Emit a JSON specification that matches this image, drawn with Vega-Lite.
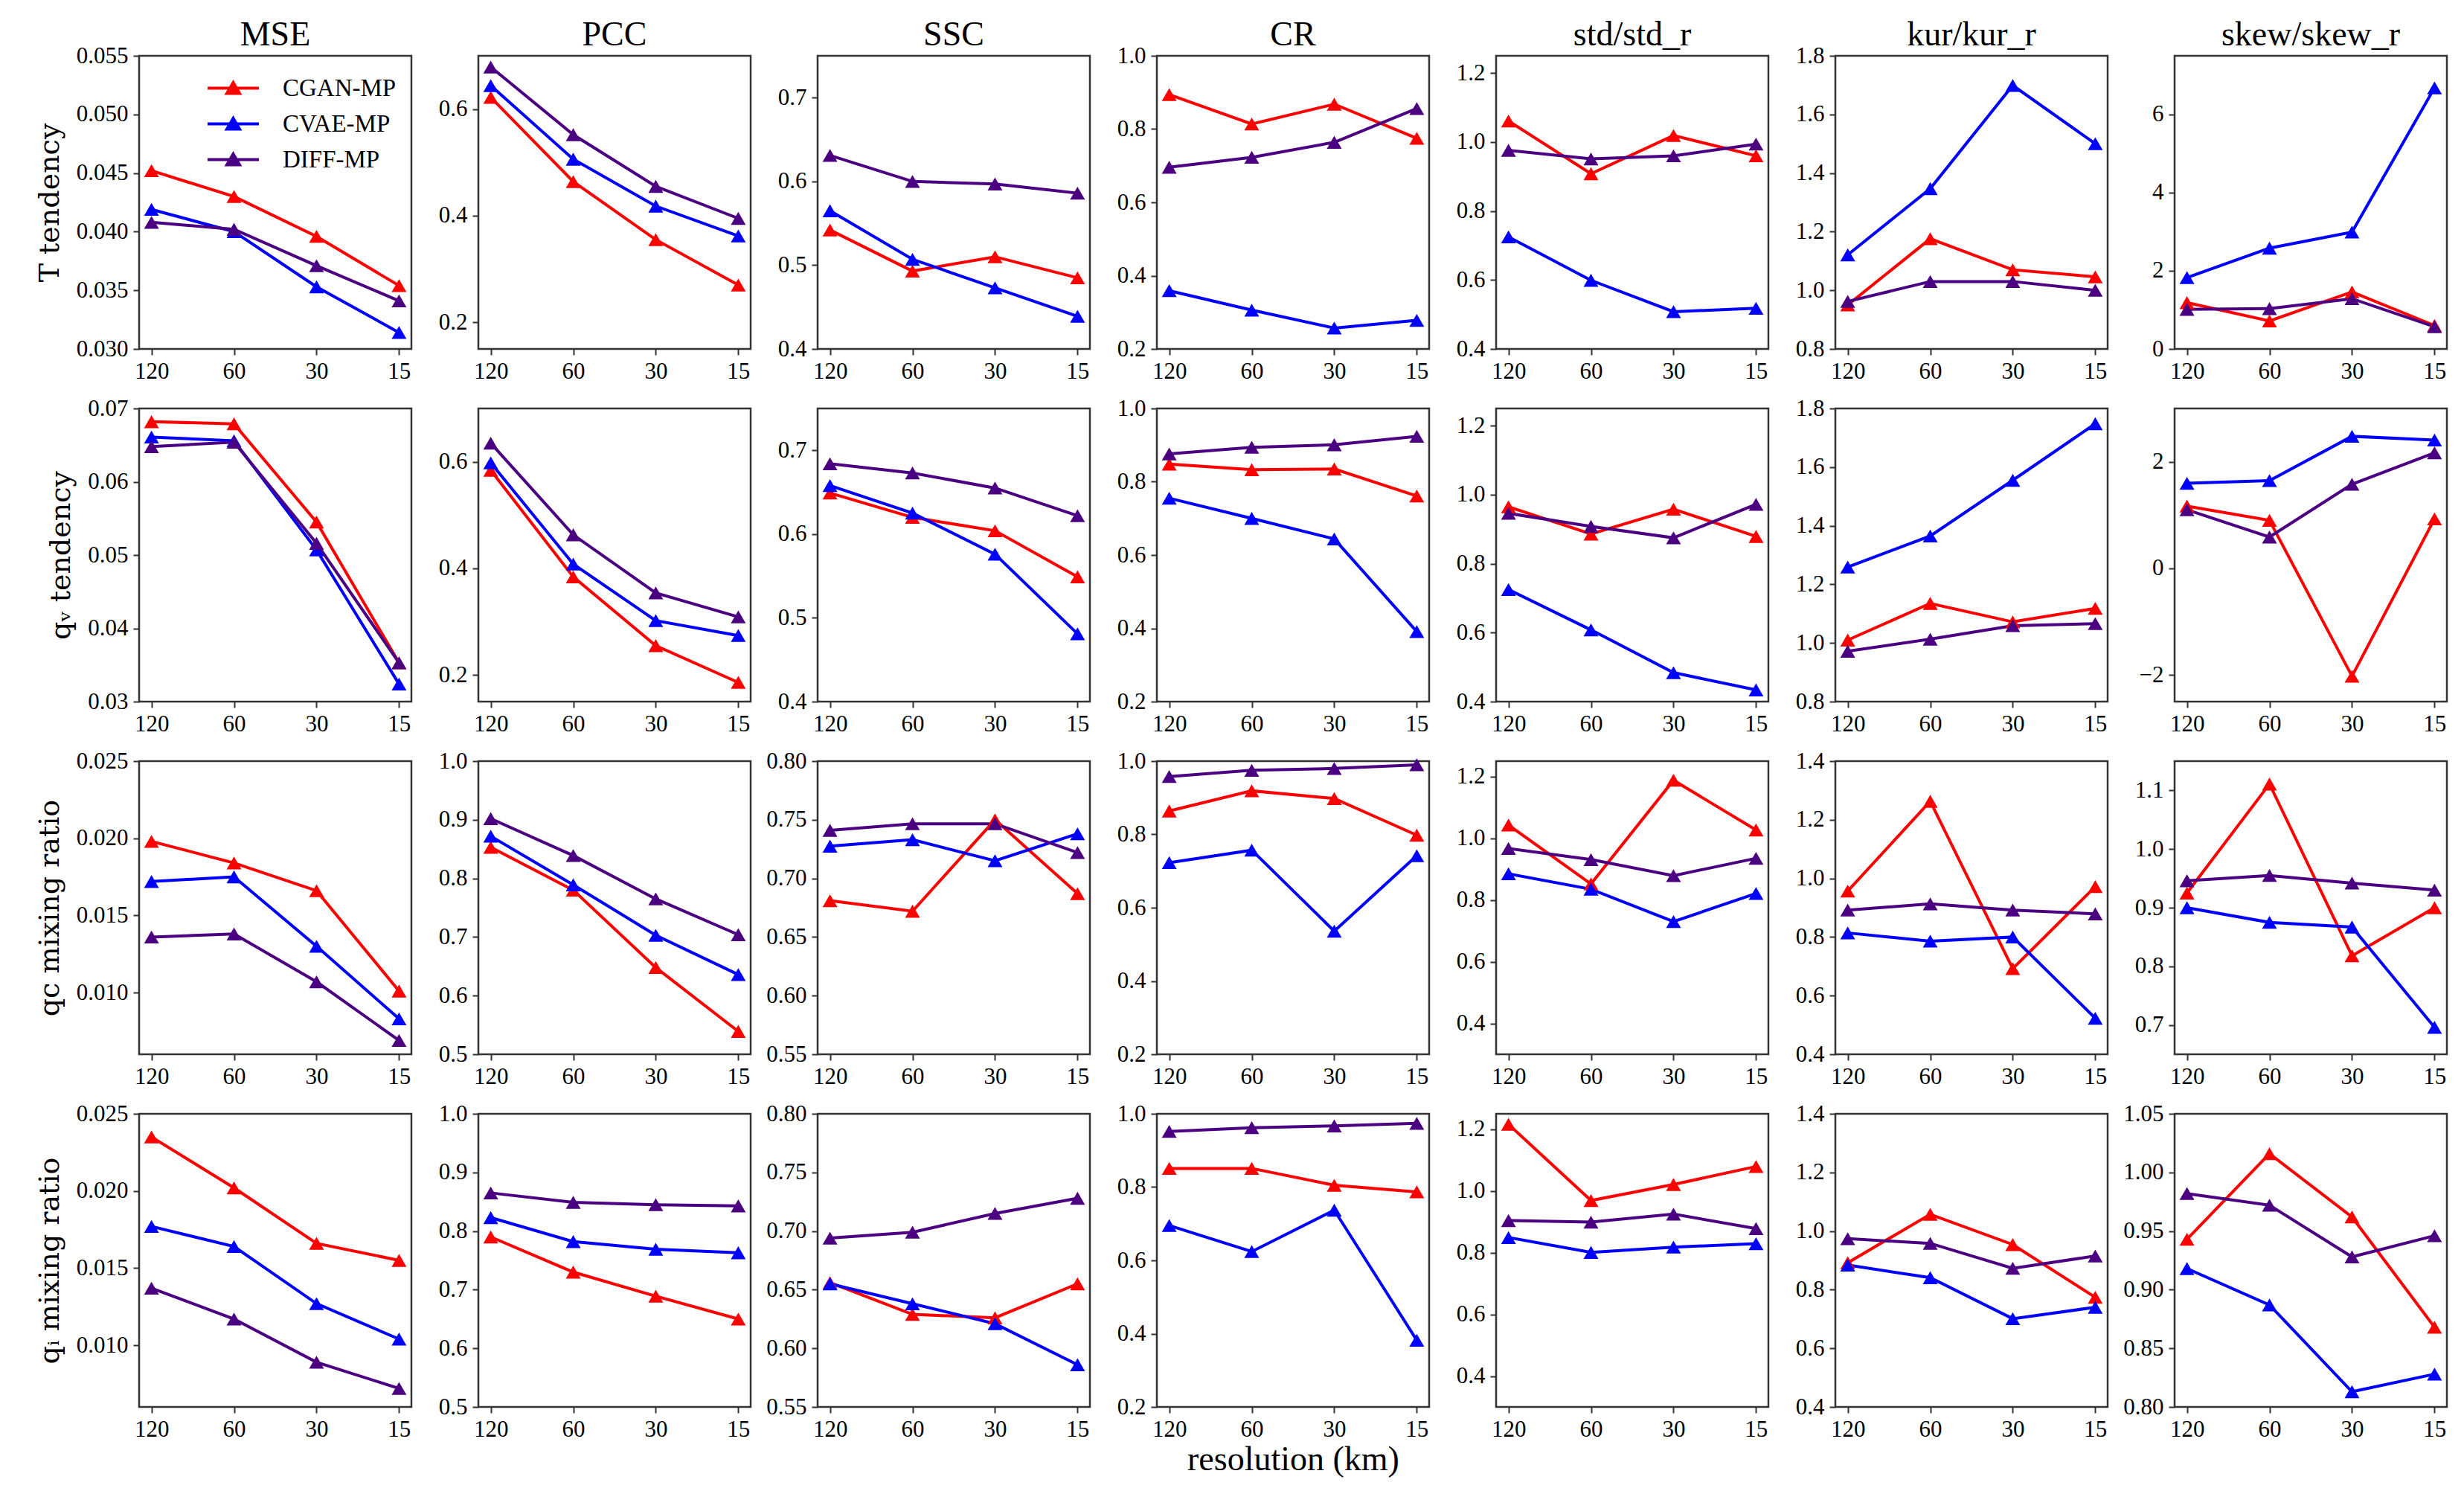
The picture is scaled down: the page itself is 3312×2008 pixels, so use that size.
{
"$schema":"https://vega.github.io/schema/vega-lite/v6.json",
"background":"white",
"padding":{"left":47,"top":22,"right":10,"bottom":10},
"data":{"values":[
{"var":"T","metric":"MSE","res":"120","model":"CGAN-MP","value":0.0452},{"var":"T","metric":"MSE","res":"60","model":"CGAN-MP","value":0.0430},{"var":"T","metric":"MSE","res":"30","model":"CGAN-MP","value":0.0396},{"var":"T","metric":"MSE","res":"15","model":"CGAN-MP","value":0.0354},
{"var":"T","metric":"MSE","res":"120","model":"CVAE-MP","value":0.0419},{"var":"T","metric":"MSE","res":"60","model":"CVAE-MP","value":0.0400},{"var":"T","metric":"MSE","res":"30","model":"CVAE-MP","value":0.0353},{"var":"T","metric":"MSE","res":"15","model":"CVAE-MP","value":0.0314},
{"var":"T","metric":"MSE","res":"120","model":"DIFF-MP","value":0.0408},{"var":"T","metric":"MSE","res":"60","model":"DIFF-MP","value":0.0402},{"var":"T","metric":"MSE","res":"30","model":"DIFF-MP","value":0.0371},{"var":"T","metric":"MSE","res":"15","model":"DIFF-MP","value":0.0341},
{"var":"T","metric":"PCC","res":"120","model":"CGAN-MP","value":0.622},{"var":"T","metric":"PCC","res":"60","model":"CGAN-MP","value":0.464},{"var":"T","metric":"PCC","res":"30","model":"CGAN-MP","value":0.355},{"var":"T","metric":"PCC","res":"15","model":"CGAN-MP","value":0.270},
{"var":"T","metric":"PCC","res":"120","model":"CVAE-MP","value":0.644},{"var":"T","metric":"PCC","res":"60","model":"CVAE-MP","value":0.506},{"var":"T","metric":"PCC","res":"30","model":"CVAE-MP","value":0.418},{"var":"T","metric":"PCC","res":"15","model":"CVAE-MP","value":0.362},
{"var":"T","metric":"PCC","res":"120","model":"DIFF-MP","value":0.679},{"var":"T","metric":"PCC","res":"60","model":"DIFF-MP","value":0.552},{"var":"T","metric":"PCC","res":"30","model":"DIFF-MP","value":0.455},{"var":"T","metric":"PCC","res":"15","model":"DIFF-MP","value":0.395},
{"var":"T","metric":"SSC","res":"120","model":"CGAN-MP","value":0.542},{"var":"T","metric":"SSC","res":"60","model":"CGAN-MP","value":0.493},{"var":"T","metric":"SSC","res":"30","model":"CGAN-MP","value":0.510},{"var":"T","metric":"SSC","res":"15","model":"CGAN-MP","value":0.485},
{"var":"T","metric":"SSC","res":"120","model":"CVAE-MP","value":0.565},{"var":"T","metric":"SSC","res":"60","model":"CVAE-MP","value":0.507},{"var":"T","metric":"SSC","res":"30","model":"CVAE-MP","value":0.473},{"var":"T","metric":"SSC","res":"15","model":"CVAE-MP","value":0.439},
{"var":"T","metric":"SSC","res":"120","model":"DIFF-MP","value":0.631},{"var":"T","metric":"SSC","res":"60","model":"DIFF-MP","value":0.600},{"var":"T","metric":"SSC","res":"30","model":"DIFF-MP","value":0.597},{"var":"T","metric":"SSC","res":"15","model":"DIFF-MP","value":0.586},
{"var":"T","metric":"CR","res":"120","model":"CGAN-MP","value":0.894},{"var":"T","metric":"CR","res":"60","model":"CGAN-MP","value":0.814},{"var":"T","metric":"CR","res":"30","model":"CGAN-MP","value":0.868},{"var":"T","metric":"CR","res":"15","model":"CGAN-MP","value":0.775},
{"var":"T","metric":"CR","res":"120","model":"CVAE-MP","value":0.359},{"var":"T","metric":"CR","res":"60","model":"CVAE-MP","value":0.306},{"var":"T","metric":"CR","res":"30","model":"CVAE-MP","value":0.257},{"var":"T","metric":"CR","res":"15","model":"CVAE-MP","value":0.278},
{"var":"T","metric":"CR","res":"120","model":"DIFF-MP","value":0.696},{"var":"T","metric":"CR","res":"60","model":"DIFF-MP","value":0.723},{"var":"T","metric":"CR","res":"30","model":"DIFF-MP","value":0.764},{"var":"T","metric":"CR","res":"15","model":"DIFF-MP","value":0.856},
{"var":"T","metric":"std","res":"120","model":"CGAN-MP","value":1.061},{"var":"T","metric":"std","res":"60","model":"CGAN-MP","value":0.908},{"var":"T","metric":"std","res":"30","model":"CGAN-MP","value":1.019},{"var":"T","metric":"std","res":"15","model":"CGAN-MP","value":0.960},
{"var":"T","metric":"std","res":"120","model":"CVAE-MP","value":0.725},{"var":"T","metric":"std","res":"60","model":"CVAE-MP","value":0.599},{"var":"T","metric":"std","res":"30","model":"CVAE-MP","value":0.508},{"var":"T","metric":"std","res":"15","model":"CVAE-MP","value":0.518},
{"var":"T","metric":"std","res":"120","model":"DIFF-MP","value":0.976},{"var":"T","metric":"std","res":"60","model":"DIFF-MP","value":0.951},{"var":"T","metric":"std","res":"30","model":"DIFF-MP","value":0.960},{"var":"T","metric":"std","res":"15","model":"DIFF-MP","value":0.994},
{"var":"T","metric":"kur","res":"120","model":"CGAN-MP","value":0.950},{"var":"T","metric":"kur","res":"60","model":"CGAN-MP","value":1.176},{"var":"T","metric":"kur","res":"30","model":"CGAN-MP","value":1.070},{"var":"T","metric":"kur","res":"15","model":"CGAN-MP","value":1.046},
{"var":"T","metric":"kur","res":"120","model":"CVAE-MP","value":1.121},{"var":"T","metric":"kur","res":"60","model":"CVAE-MP","value":1.347},{"var":"T","metric":"kur","res":"30","model":"CVAE-MP","value":1.699},{"var":"T","metric":"kur","res":"15","model":"CVAE-MP","value":1.500},
{"var":"T","metric":"kur","res":"120","model":"DIFF-MP","value":0.962},{"var":"T","metric":"kur","res":"60","model":"DIFF-MP","value":1.030},{"var":"T","metric":"kur","res":"30","model":"DIFF-MP","value":1.030},{"var":"T","metric":"kur","res":"15","model":"DIFF-MP","value":1.000},
{"var":"T","metric":"skew","res":"120","model":"CGAN-MP","value":1.185},{"var":"T","metric":"skew","res":"60","model":"CGAN-MP","value":0.716},{"var":"T","metric":"skew","res":"30","model":"CGAN-MP","value":1.457},{"var":"T","metric":"skew","res":"15","model":"CGAN-MP","value":0.600},
{"var":"T","metric":"skew","res":"120","model":"CVAE-MP","value":1.825},{"var":"T","metric":"skew","res":"60","model":"CVAE-MP","value":2.579},{"var":"T","metric":"skew","res":"30","model":"CVAE-MP","value":2.990},{"var":"T","metric":"skew","res":"15","model":"CVAE-MP","value":6.680},
{"var":"T","metric":"skew","res":"120","model":"DIFF-MP","value":1.014},{"var":"T","metric":"skew","res":"60","model":"DIFF-MP","value":1.033},{"var":"T","metric":"skew","res":"30","model":"DIFF-MP","value":1.286},{"var":"T","metric":"skew","res":"15","model":"DIFF-MP","value":0.570},

{"var":"qv","metric":"MSE","res":"120","model":"CGAN-MP","value":0.0682},{"var":"qv","metric":"MSE","res":"60","model":"CGAN-MP","value":0.0679},{"var":"qv","metric":"MSE","res":"30","model":"CGAN-MP","value":0.0545},{"var":"qv","metric":"MSE","res":"15","model":"CGAN-MP","value":0.0353},
{"var":"qv","metric":"MSE","res":"120","model":"CVAE-MP","value":0.0661},{"var":"qv","metric":"MSE","res":"60","model":"CVAE-MP","value":0.0656},{"var":"qv","metric":"MSE","res":"30","model":"CVAE-MP","value":0.0507},{"var":"qv","metric":"MSE","res":"15","model":"CVAE-MP","value":0.0324},
{"var":"qv","metric":"MSE","res":"120","model":"DIFF-MP","value":0.0648},{"var":"qv","metric":"MSE","res":"60","model":"DIFF-MP","value":0.0654},{"var":"qv","metric":"MSE","res":"30","model":"DIFF-MP","value":0.0516},{"var":"qv","metric":"MSE","res":"15","model":"DIFF-MP","value":0.0353},
{"var":"qv","metric":"PCC","res":"120","model":"CGAN-MP","value":0.584},{"var":"qv","metric":"PCC","res":"60","model":"CGAN-MP","value":0.384},{"var":"qv","metric":"PCC","res":"30","model":"CGAN-MP","value":0.255},{"var":"qv","metric":"PCC","res":"15","model":"CGAN-MP","value":0.186},
{"var":"qv","metric":"PCC","res":"120","model":"CVAE-MP","value":0.598},{"var":"qv","metric":"PCC","res":"60","model":"CVAE-MP","value":0.408},{"var":"qv","metric":"PCC","res":"30","model":"CVAE-MP","value":0.302},{"var":"qv","metric":"PCC","res":"15","model":"CVAE-MP","value":0.274},
{"var":"qv","metric":"PCC","res":"120","model":"DIFF-MP","value":0.635},{"var":"qv","metric":"PCC","res":"60","model":"DIFF-MP","value":0.463},{"var":"qv","metric":"PCC","res":"30","model":"DIFF-MP","value":0.354},{"var":"qv","metric":"PCC","res":"15","model":"DIFF-MP","value":0.309},
{"var":"qv","metric":"SSC","res":"120","model":"CGAN-MP","value":0.649},{"var":"qv","metric":"SSC","res":"60","model":"CGAN-MP","value":0.620},{"var":"qv","metric":"SSC","res":"30","model":"CGAN-MP","value":0.604},{"var":"qv","metric":"SSC","res":"15","model":"CGAN-MP","value":0.549},
{"var":"qv","metric":"SSC","res":"120","model":"CVAE-MP","value":0.658},{"var":"qv","metric":"SSC","res":"60","model":"CVAE-MP","value":0.625},{"var":"qv","metric":"SSC","res":"30","model":"CVAE-MP","value":0.576},{"var":"qv","metric":"SSC","res":"15","model":"CVAE-MP","value":0.481},
{"var":"qv","metric":"SSC","res":"120","model":"DIFF-MP","value":0.684},{"var":"qv","metric":"SSC","res":"60","model":"DIFF-MP","value":0.673},{"var":"qv","metric":"SSC","res":"30","model":"DIFF-MP","value":0.655},{"var":"qv","metric":"SSC","res":"15","model":"DIFF-MP","value":0.622},
{"var":"qv","metric":"CR","res":"120","model":"CGAN-MP","value":0.848},{"var":"qv","metric":"CR","res":"60","model":"CGAN-MP","value":0.833},{"var":"qv","metric":"CR","res":"30","model":"CGAN-MP","value":0.835},{"var":"qv","metric":"CR","res":"15","model":"CGAN-MP","value":0.761},
{"var":"qv","metric":"CR","res":"120","model":"CVAE-MP","value":0.755},{"var":"qv","metric":"CR","res":"60","model":"CVAE-MP","value":0.700},{"var":"qv","metric":"CR","res":"30","model":"CVAE-MP","value":0.644},{"var":"qv","metric":"CR","res":"15","model":"CVAE-MP","value":0.391},
{"var":"qv","metric":"CR","res":"120","model":"DIFF-MP","value":0.876},{"var":"qv","metric":"CR","res":"60","model":"DIFF-MP","value":0.894},{"var":"qv","metric":"CR","res":"30","model":"DIFF-MP","value":0.901},{"var":"qv","metric":"CR","res":"15","model":"DIFF-MP","value":0.924},
{"var":"qv","metric":"std","res":"120","model":"CGAN-MP","value":0.965},{"var":"qv","metric":"std","res":"60","model":"CGAN-MP","value":0.886},{"var":"qv","metric":"std","res":"30","model":"CGAN-MP","value":0.958},{"var":"qv","metric":"std","res":"15","model":"CGAN-MP","value":0.879},
{"var":"qv","metric":"std","res":"120","model":"CVAE-MP","value":0.725},{"var":"qv","metric":"std","res":"60","model":"CVAE-MP","value":0.608},{"var":"qv","metric":"std","res":"30","model":"CVAE-MP","value":0.484},{"var":"qv","metric":"std","res":"15","model":"CVAE-MP","value":0.434},
{"var":"qv","metric":"std","res":"120","model":"DIFF-MP","value":0.946},{"var":"qv","metric":"std","res":"60","model":"DIFF-MP","value":0.908},{"var":"qv","metric":"std","res":"30","model":"DIFF-MP","value":0.875},{"var":"qv","metric":"std","res":"15","model":"DIFF-MP","value":0.972},
{"var":"qv","metric":"kur","res":"120","model":"CGAN-MP","value":1.010},{"var":"qv","metric":"kur","res":"60","model":"CGAN-MP","value":1.135},{"var":"qv","metric":"kur","res":"30","model":"CGAN-MP","value":1.072},{"var":"qv","metric":"kur","res":"15","model":"CGAN-MP","value":1.118},
{"var":"qv","metric":"kur","res":"120","model":"CVAE-MP","value":1.259},{"var":"qv","metric":"kur","res":"60","model":"CVAE-MP","value":1.365},{"var":"qv","metric":"kur","res":"30","model":"CVAE-MP","value":1.555},{"var":"qv","metric":"kur","res":"15","model":"CVAE-MP","value":1.748},
{"var":"qv","metric":"kur","res":"120","model":"DIFF-MP","value":0.972},{"var":"qv","metric":"kur","res":"60","model":"DIFF-MP","value":1.013},{"var":"qv","metric":"kur","res":"30","model":"DIFF-MP","value":1.059},{"var":"qv","metric":"kur","res":"15","model":"DIFF-MP","value":1.066},
{"var":"qv","metric":"skew","res":"120","model":"CGAN-MP","value":1.169},{"var":"qv","metric":"skew","res":"60","model":"CGAN-MP","value":0.900},{"var":"qv","metric":"skew","res":"30","model":"CGAN-MP","value":-2.023},{"var":"qv","metric":"skew","res":"15","model":"CGAN-MP","value":0.928},
{"var":"qv","metric":"skew","res":"120","model":"CVAE-MP","value":1.596},{"var":"qv","metric":"skew","res":"60","model":"CVAE-MP","value":1.647},{"var":"qv","metric":"skew","res":"30","model":"CVAE-MP","value":2.478},{"var":"qv","metric":"skew","res":"15","model":"CVAE-MP","value":2.408},
{"var":"qv","metric":"skew","res":"120","model":"DIFF-MP","value":1.100},{"var":"qv","metric":"skew","res":"60","model":"DIFF-MP","value":0.589},{"var":"qv","metric":"skew","res":"30","model":"DIFF-MP","value":1.578},{"var":"qv","metric":"skew","res":"15","model":"DIFF-MP","value":2.167},

{"var":"qc","metric":"MSE","res":"120","model":"CGAN-MP","value":0.0198},{"var":"qc","metric":"MSE","res":"60","model":"CGAN-MP","value":0.0184},{"var":"qc","metric":"MSE","res":"30","model":"CGAN-MP","value":0.0166},{"var":"qc","metric":"MSE","res":"15","model":"CGAN-MP","value":0.0101},
{"var":"qc","metric":"MSE","res":"120","model":"CVAE-MP","value":0.0172},{"var":"qc","metric":"MSE","res":"60","model":"CVAE-MP","value":0.0175},{"var":"qc","metric":"MSE","res":"30","model":"CVAE-MP","value":0.0130},{"var":"qc","metric":"MSE","res":"15","model":"CVAE-MP","value":0.0083},
{"var":"qc","metric":"MSE","res":"120","model":"DIFF-MP","value":0.0136},{"var":"qc","metric":"MSE","res":"60","model":"DIFF-MP","value":0.0138},{"var":"qc","metric":"MSE","res":"30","model":"DIFF-MP","value":0.0107},{"var":"qc","metric":"MSE","res":"15","model":"DIFF-MP","value":0.0069},
{"var":"qc","metric":"PCC","res":"120","model":"CGAN-MP","value":0.853},{"var":"qc","metric":"PCC","res":"60","model":"CGAN-MP","value":0.780},{"var":"qc","metric":"PCC","res":"30","model":"CGAN-MP","value":0.648},{"var":"qc","metric":"PCC","res":"15","model":"CGAN-MP","value":0.539},
{"var":"qc","metric":"PCC","res":"120","model":"CVAE-MP","value":0.872},{"var":"qc","metric":"PCC","res":"60","model":"CVAE-MP","value":0.789},{"var":"qc","metric":"PCC","res":"30","model":"CVAE-MP","value":0.703},{"var":"qc","metric":"PCC","res":"15","model":"CVAE-MP","value":0.636},
{"var":"qc","metric":"PCC","res":"120","model":"DIFF-MP","value":0.902},{"var":"qc","metric":"PCC","res":"60","model":"DIFF-MP","value":0.839},{"var":"qc","metric":"PCC","res":"30","model":"DIFF-MP","value":0.765},{"var":"qc","metric":"PCC","res":"15","model":"DIFF-MP","value":0.704},
{"var":"qc","metric":"SSC","res":"120","model":"CGAN-MP","value":0.681},{"var":"qc","metric":"SSC","res":"60","model":"CGAN-MP","value":0.672},{"var":"qc","metric":"SSC","res":"30","model":"CGAN-MP","value":0.750},{"var":"qc","metric":"SSC","res":"15","model":"CGAN-MP","value":0.687},
{"var":"qc","metric":"SSC","res":"120","model":"CVAE-MP","value":0.7275},{"var":"qc","metric":"SSC","res":"60","model":"CVAE-MP","value":0.733},{"var":"qc","metric":"SSC","res":"30","model":"CVAE-MP","value":0.715},{"var":"qc","metric":"SSC","res":"15","model":"CVAE-MP","value":0.738},
{"var":"qc","metric":"SSC","res":"120","model":"DIFF-MP","value":0.741},{"var":"qc","metric":"SSC","res":"60","model":"DIFF-MP","value":0.7466},{"var":"qc","metric":"SSC","res":"30","model":"DIFF-MP","value":0.7466},{"var":"qc","metric":"SSC","res":"15","model":"DIFF-MP","value":0.722},
{"var":"qc","metric":"CR","res":"120","model":"CGAN-MP","value":0.864},{"var":"qc","metric":"CR","res":"60","model":"CGAN-MP","value":0.919},{"var":"qc","metric":"CR","res":"30","model":"CGAN-MP","value":0.898},{"var":"qc","metric":"CR","res":"15","model":"CGAN-MP","value":0.798},
{"var":"qc","metric":"CR","res":"120","model":"CVAE-MP","value":0.723},{"var":"qc","metric":"CR","res":"60","model":"CVAE-MP","value":0.757},{"var":"qc","metric":"CR","res":"30","model":"CVAE-MP","value":0.536},{"var":"qc","metric":"CR","res":"15","model":"CVAE-MP","value":0.742},
{"var":"qc","metric":"CR","res":"120","model":"DIFF-MP","value":0.958},{"var":"qc","metric":"CR","res":"60","model":"DIFF-MP","value":0.975},{"var":"qc","metric":"CR","res":"30","model":"DIFF-MP","value":0.980},{"var":"qc","metric":"CR","res":"15","model":"DIFF-MP","value":0.990},
{"var":"qc","metric":"std","res":"120","model":"CGAN-MP","value":1.043},{"var":"qc","metric":"std","res":"60","model":"CGAN-MP","value":0.852},{"var":"qc","metric":"std","res":"30","model":"CGAN-MP","value":1.188},{"var":"qc","metric":"std","res":"15","model":"CGAN-MP","value":1.027},
{"var":"qc","metric":"std","res":"120","model":"CVAE-MP","value":0.885},{"var":"qc","metric":"std","res":"60","model":"CVAE-MP","value":0.835},{"var":"qc","metric":"std","res":"30","model":"CVAE-MP","value":0.730},{"var":"qc","metric":"std","res":"15","model":"CVAE-MP","value":0.821},
{"var":"qc","metric":"std","res":"120","model":"DIFF-MP","value":0.967},{"var":"qc","metric":"std","res":"60","model":"DIFF-MP","value":0.931},{"var":"qc","metric":"std","res":"30","model":"DIFF-MP","value":0.879},{"var":"qc","metric":"std","res":"15","model":"DIFF-MP","value":0.935},
{"var":"qc","metric":"kur","res":"120","model":"CGAN-MP","value":0.957},{"var":"qc","metric":"kur","res":"60","model":"CGAN-MP","value":1.263},{"var":"qc","metric":"kur","res":"30","model":"CGAN-MP","value":0.692},{"var":"qc","metric":"kur","res":"15","model":"CGAN-MP","value":0.972},
{"var":"qc","metric":"kur","res":"120","model":"CVAE-MP","value":0.814},{"var":"qc","metric":"kur","res":"60","model":"CVAE-MP","value":0.786},{"var":"qc","metric":"kur","res":"30","model":"CVAE-MP","value":0.800},{"var":"qc","metric":"kur","res":"15","model":"CVAE-MP","value":0.523},
{"var":"qc","metric":"kur","res":"120","model":"DIFF-MP","value":0.892},{"var":"qc","metric":"kur","res":"60","model":"DIFF-MP","value":0.913},{"var":"qc","metric":"kur","res":"30","model":"DIFF-MP","value":0.892},{"var":"qc","metric":"kur","res":"15","model":"DIFF-MP","value":0.879},
{"var":"qc","metric":"skew","res":"120","model":"CGAN-MP","value":0.925},{"var":"qc","metric":"skew","res":"60","model":"CGAN-MP","value":1.111},{"var":"qc","metric":"skew","res":"30","model":"CGAN-MP","value":0.818},{"var":"qc","metric":"skew","res":"15","model":"CGAN-MP","value":0.900},
{"var":"qc","metric":"skew","res":"120","model":"CVAE-MP","value":0.900},{"var":"qc","metric":"skew","res":"60","model":"CVAE-MP","value":0.875},{"var":"qc","metric":"skew","res":"30","model":"CVAE-MP","value":0.867},{"var":"qc","metric":"skew","res":"15","model":"CVAE-MP","value":0.696},
{"var":"qc","metric":"skew","res":"120","model":"DIFF-MP","value":0.946},{"var":"qc","metric":"skew","res":"60","model":"DIFF-MP","value":0.955},{"var":"qc","metric":"skew","res":"30","model":"DIFF-MP","value":0.942},{"var":"qc","metric":"skew","res":"15","model":"DIFF-MP","value":0.930},

{"var":"qi","metric":"MSE","res":"120","model":"CGAN-MP","value":0.0235},{"var":"qi","metric":"MSE","res":"60","model":"CGAN-MP","value":0.0202},{"var":"qi","metric":"MSE","res":"30","model":"CGAN-MP","value":0.0166},{"var":"qi","metric":"MSE","res":"15","model":"CGAN-MP","value":0.0155},
{"var":"qi","metric":"MSE","res":"120","model":"CVAE-MP","value":0.0177},{"var":"qi","metric":"MSE","res":"60","model":"CVAE-MP","value":0.0164},{"var":"qi","metric":"MSE","res":"30","model":"CVAE-MP","value":0.0127},{"var":"qi","metric":"MSE","res":"15","model":"CVAE-MP","value":0.0104},
{"var":"qi","metric":"MSE","res":"120","model":"DIFF-MP","value":0.0137},{"var":"qi","metric":"MSE","res":"60","model":"DIFF-MP","value":0.0117},{"var":"qi","metric":"MSE","res":"30","model":"DIFF-MP","value":0.0089},{"var":"qi","metric":"MSE","res":"15","model":"DIFF-MP","value":0.0072},
{"var":"qi","metric":"PCC","res":"120","model":"CGAN-MP","value":0.790},{"var":"qi","metric":"PCC","res":"60","model":"CGAN-MP","value":0.730},{"var":"qi","metric":"PCC","res":"30","model":"CGAN-MP","value":0.689},{"var":"qi","metric":"PCC","res":"15","model":"CGAN-MP","value":0.650},
{"var":"qi","metric":"PCC","res":"120","model":"CVAE-MP","value":0.823},{"var":"qi","metric":"PCC","res":"60","model":"CVAE-MP","value":0.782},{"var":"qi","metric":"PCC","res":"30","model":"CVAE-MP","value":0.769},{"var":"qi","metric":"PCC","res":"15","model":"CVAE-MP","value":0.763},
{"var":"qi","metric":"PCC","res":"120","model":"DIFF-MP","value":0.865},{"var":"qi","metric":"PCC","res":"60","model":"DIFF-MP","value":0.849},{"var":"qi","metric":"PCC","res":"30","model":"DIFF-MP","value":0.845},{"var":"qi","metric":"PCC","res":"15","model":"DIFF-MP","value":0.843},
{"var":"qi","metric":"SSC","res":"120","model":"CGAN-MP","value":0.656},{"var":"qi","metric":"SSC","res":"60","model":"CGAN-MP","value":0.629},{"var":"qi","metric":"SSC","res":"30","model":"CGAN-MP","value":0.626},{"var":"qi","metric":"SSC","res":"15","model":"CGAN-MP","value":0.655},
{"var":"qi","metric":"SSC","res":"120","model":"CVAE-MP","value":0.655},{"var":"qi","metric":"SSC","res":"60","model":"CVAE-MP","value":0.638},{"var":"qi","metric":"SSC","res":"30","model":"CVAE-MP","value":0.621},{"var":"qi","metric":"SSC","res":"15","model":"CVAE-MP","value":0.586},
{"var":"qi","metric":"SSC","res":"120","model":"DIFF-MP","value":0.694},{"var":"qi","metric":"SSC","res":"60","model":"DIFF-MP","value":0.699},{"var":"qi","metric":"SSC","res":"30","model":"DIFF-MP","value":0.715},{"var":"qi","metric":"SSC","res":"15","model":"DIFF-MP","value":0.728},
{"var":"qi","metric":"CR","res":"120","model":"CGAN-MP","value":0.851},{"var":"qi","metric":"CR","res":"60","model":"CGAN-MP","value":0.851},{"var":"qi","metric":"CR","res":"30","model":"CGAN-MP","value":0.805},{"var":"qi","metric":"CR","res":"15","model":"CGAN-MP","value":0.787},
{"var":"qi","metric":"CR","res":"120","model":"CVAE-MP","value":0.695},{"var":"qi","metric":"CR","res":"60","model":"CVAE-MP","value":0.624},{"var":"qi","metric":"CR","res":"30","model":"CVAE-MP","value":0.737},{"var":"qi","metric":"CR","res":"15","model":"CVAE-MP","value":0.382},
{"var":"qi","metric":"CR","res":"120","model":"DIFF-MP","value":0.952},{"var":"qi","metric":"CR","res":"60","model":"DIFF-MP","value":0.962},{"var":"qi","metric":"CR","res":"30","model":"DIFF-MP","value":0.967},{"var":"qi","metric":"CR","res":"15","model":"DIFF-MP","value":0.974},
{"var":"qi","metric":"std","res":"120","model":"CGAN-MP","value":1.216},{"var":"qi","metric":"std","res":"60","model":"CGAN-MP","value":0.969},{"var":"qi","metric":"std","res":"30","model":"CGAN-MP","value":1.021},{"var":"qi","metric":"std","res":"15","model":"CGAN-MP","value":1.079},
{"var":"qi","metric":"std","res":"120","model":"CVAE-MP","value":0.849},{"var":"qi","metric":"std","res":"60","model":"CVAE-MP","value":0.801},{"var":"qi","metric":"std","res":"30","model":"CVAE-MP","value":0.818},{"var":"qi","metric":"std","res":"15","model":"CVAE-MP","value":0.829},
{"var":"qi","metric":"std","res":"120","model":"DIFF-MP","value":0.904},{"var":"qi","metric":"std","res":"60","model":"DIFF-MP","value":0.899},{"var":"qi","metric":"std","res":"30","model":"DIFF-MP","value":0.925},{"var":"qi","metric":"std","res":"15","model":"DIFF-MP","value":0.878},
{"var":"qi","metric":"kur","res":"120","model":"CGAN-MP","value":0.892},{"var":"qi","metric":"kur","res":"60","model":"CGAN-MP","value":1.057},{"var":"qi","metric":"kur","res":"30","model":"CGAN-MP","value":0.954},{"var":"qi","metric":"kur","res":"15","model":"CGAN-MP","value":0.774},
{"var":"qi","metric":"kur","res":"120","model":"CVAE-MP","value":0.884},{"var":"qi","metric":"kur","res":"60","model":"CVAE-MP","value":0.841},{"var":"qi","metric":"kur","res":"30","model":"CVAE-MP","value":0.701},{"var":"qi","metric":"kur","res":"15","model":"CVAE-MP","value":0.740},
{"var":"qi","metric":"kur","res":"120","model":"DIFF-MP","value":0.974},{"var":"qi","metric":"kur","res":"60","model":"DIFF-MP","value":0.958},{"var":"qi","metric":"kur","res":"30","model":"DIFF-MP","value":0.873},{"var":"qi","metric":"kur","res":"15","model":"DIFF-MP","value":0.915},
{"var":"qi","metric":"skew","res":"120","model":"CGAN-MP","value":0.943},{"var":"qi","metric":"skew","res":"60","model":"CGAN-MP","value":1.016},{"var":"qi","metric":"skew","res":"30","model":"CGAN-MP","value":0.962},{"var":"qi","metric":"skew","res":"15","model":"CGAN-MP","value":0.868},
{"var":"qi","metric":"skew","res":"120","model":"CVAE-MP","value":0.918},{"var":"qi","metric":"skew","res":"60","model":"CVAE-MP","value":0.887},{"var":"qi","metric":"skew","res":"30","model":"CVAE-MP","value":0.813},{"var":"qi","metric":"skew","res":"15","model":"CVAE-MP","value":0.828},
{"var":"qi","metric":"skew","res":"120","model":"DIFF-MP","value":0.982},{"var":"qi","metric":"skew","res":"60","model":"DIFF-MP","value":0.972},{"var":"qi","metric":"skew","res":"30","model":"DIFF-MP","value":0.928},{"var":"qi","metric":"skew","res":"15","model":"DIFF-MP","value":0.946}
]},
"columns":7,
"spacing":{"row":80,"column":90},
"bounds":"flush",
"resolve":{"scale":{"color":"independent"},"legend":{"color":"independent"}},
"concat":[
{"width":366,"height":394,"title":{"text":"MSE","dy":16},"transform":[{"filter":"datum.var=='T'&&datum.metric=='MSE'"}],"encoding":{"x":{"field":"res","type":"ordinal","sort":["120","60","30","15"],"scale":{"type":"point","padding":0.15},"axis":{"title":null}},"y":{"field":"value","type":"quantitative","scale":{"domain":[0.03,0.055],"nice":false,"zero":false},"axis":{"values":[0.03,0.035,0.04,0.045,0.05,0.055],"format":".3f","title":"T tendency"}},"color":{"field":"model","type":"nominal","scale":{"domain":["CGAN-MP","CVAE-MP","DIFF-MP"],"range":["#ff0000","#0000ff","#4b0082"]},"legend":{"title":null,"orient":"none","legendX":110,"legendY":27,"padding":0,"symbolType":"M-3.45,0H3.45 M0,-0.75L0.85,0.7L-0.85,0.7Z","symbolSize":400,"symbolOpacity":1,"symbolStrokeWidth":4,"labelOffset":50,"labelFontSize":33,"labelFont":"Liberation Serif","rowPadding":14,"labelColor":"#000000"}}},"layer":[{"mark":"line"},{"mark":"point"}]},
{"width":366,"height":394,"title":"PCC","transform":[{"filter":"datum.var=='T'&&datum.metric=='PCC'"}],"encoding":{"x":{"field":"res","type":"ordinal","sort":["120","60","30","15"],"scale":{"type":"point","padding":0.15},"axis":{"title":null}},"y":{"field":"value","type":"quantitative","scale":{"domain":[0.15,0.7],"nice":false,"zero":false},"axis":{"values":[0.2,0.4,0.6],"format":".1f","title":null}},"color":{"field":"model","type":"nominal","scale":{"domain":["CGAN-MP","CVAE-MP","DIFF-MP"],"range":["#ff0000","#0000ff","#4b0082"]},"legend":null}},"layer":[{"mark":"line"},{"mark":"point"}]},
{"width":366,"height":394,"title":"SSC","transform":[{"filter":"datum.var=='T'&&datum.metric=='SSC'"}],"encoding":{"x":{"field":"res","type":"ordinal","sort":["120","60","30","15"],"scale":{"type":"point","padding":0.15},"axis":{"title":null}},"y":{"field":"value","type":"quantitative","scale":{"domain":[0.4,0.75],"nice":false,"zero":false},"axis":{"values":[0.4,0.5,0.6,0.7],"format":".1f","title":null}},"color":{"field":"model","type":"nominal","scale":{"domain":["CGAN-MP","CVAE-MP","DIFF-MP"],"range":["#ff0000","#0000ff","#4b0082"]},"legend":null}},"layer":[{"mark":"line"},{"mark":"point"}]},
{"width":366,"height":394,"title":{"text":"CR","dy":16},"transform":[{"filter":"datum.var=='T'&&datum.metric=='CR'"}],"encoding":{"x":{"field":"res","type":"ordinal","sort":["120","60","30","15"],"scale":{"type":"point","padding":0.15},"axis":{"title":null}},"y":{"field":"value","type":"quantitative","scale":{"domain":[0.2,1.0],"nice":false,"zero":false},"axis":{"values":[0.2,0.4,0.6,0.8,1.0],"format":".1f","title":null}},"color":{"field":"model","type":"nominal","scale":{"domain":["CGAN-MP","CVAE-MP","DIFF-MP"],"range":["#ff0000","#0000ff","#4b0082"]},"legend":null}},"layer":[{"mark":"line"},{"mark":"point"}]},
{"width":366,"height":394,"title":"std/std_r","transform":[{"filter":"datum.var=='T'&&datum.metric=='std'"}],"encoding":{"x":{"field":"res","type":"ordinal","sort":["120","60","30","15"],"scale":{"type":"point","padding":0.15},"axis":{"title":null}},"y":{"field":"value","type":"quantitative","scale":{"domain":[0.4,1.25],"nice":false,"zero":false},"axis":{"values":[0.4,0.6,0.8,1.0,1.2],"format":".1f","title":null}},"color":{"field":"model","type":"nominal","scale":{"domain":["CGAN-MP","CVAE-MP","DIFF-MP"],"range":["#ff0000","#0000ff","#4b0082"]},"legend":null}},"layer":[{"mark":"line"},{"mark":"point"}]},
{"width":366,"height":394,"title":{"text":"kur/kur_r","dy":16},"transform":[{"filter":"datum.var=='T'&&datum.metric=='kur'"}],"encoding":{"x":{"field":"res","type":"ordinal","sort":["120","60","30","15"],"scale":{"type":"point","padding":0.15},"axis":{"title":null}},"y":{"field":"value","type":"quantitative","scale":{"domain":[0.8,1.8],"nice":false,"zero":false},"axis":{"values":[0.8,1.0,1.2,1.4,1.6,1.8],"format":".1f","title":null}},"color":{"field":"model","type":"nominal","scale":{"domain":["CGAN-MP","CVAE-MP","DIFF-MP"],"range":["#ff0000","#0000ff","#4b0082"]},"legend":null}},"layer":[{"mark":"line"},{"mark":"point"}]},
{"width":366,"height":394,"title":"skew/skew_r","transform":[{"filter":"datum.var=='T'&&datum.metric=='skew'"}],"encoding":{"x":{"field":"res","type":"ordinal","sort":["120","60","30","15"],"scale":{"type":"point","padding":0.15},"axis":{"title":null}},"y":{"field":"value","type":"quantitative","scale":{"domain":[0,7.5],"nice":false,"zero":false},"axis":{"values":[0,2,4,6],"format":"d","title":null}},"color":{"field":"model","type":"nominal","scale":{"domain":["CGAN-MP","CVAE-MP","DIFF-MP"],"range":["#ff0000","#0000ff","#4b0082"]},"legend":null}},"layer":[{"mark":"line"},{"mark":"point"}]},

{"width":366,"height":394,"transform":[{"filter":"datum.var=='qv'&&datum.metric=='MSE'"}],"encoding":{"x":{"field":"res","type":"ordinal","sort":["120","60","30","15"],"scale":{"type":"point","padding":0.15},"axis":{"title":null}},"y":{"field":"value","type":"quantitative","scale":{"domain":[0.03,0.07],"nice":false,"zero":false},"axis":{"values":[0.03,0.04,0.05,0.06,0.07],"format":".2f","title":"qᵥ tendency"}},"color":{"field":"model","type":"nominal","scale":{"domain":["CGAN-MP","CVAE-MP","DIFF-MP"],"range":["#ff0000","#0000ff","#4b0082"]},"legend":null}},"layer":[{"mark":"line"},{"mark":"point"}]},
{"width":366,"height":394,"transform":[{"filter":"datum.var=='qv'&&datum.metric=='PCC'"}],"encoding":{"x":{"field":"res","type":"ordinal","sort":["120","60","30","15"],"scale":{"type":"point","padding":0.15},"axis":{"title":null}},"y":{"field":"value","type":"quantitative","scale":{"domain":[0.15,0.7],"nice":false,"zero":false},"axis":{"values":[0.2,0.4,0.6],"format":".1f","title":null}},"color":{"field":"model","type":"nominal","scale":{"domain":["CGAN-MP","CVAE-MP","DIFF-MP"],"range":["#ff0000","#0000ff","#4b0082"]},"legend":null}},"layer":[{"mark":"line"},{"mark":"point"}]},
{"width":366,"height":394,"transform":[{"filter":"datum.var=='qv'&&datum.metric=='SSC'"}],"encoding":{"x":{"field":"res","type":"ordinal","sort":["120","60","30","15"],"scale":{"type":"point","padding":0.15},"axis":{"title":null}},"y":{"field":"value","type":"quantitative","scale":{"domain":[0.4,0.75],"nice":false,"zero":false},"axis":{"values":[0.4,0.5,0.6,0.7],"format":".1f","title":null}},"color":{"field":"model","type":"nominal","scale":{"domain":["CGAN-MP","CVAE-MP","DIFF-MP"],"range":["#ff0000","#0000ff","#4b0082"]},"legend":null}},"layer":[{"mark":"line"},{"mark":"point"}]},
{"width":366,"height":394,"transform":[{"filter":"datum.var=='qv'&&datum.metric=='CR'"}],"encoding":{"x":{"field":"res","type":"ordinal","sort":["120","60","30","15"],"scale":{"type":"point","padding":0.15},"axis":{"title":null}},"y":{"field":"value","type":"quantitative","scale":{"domain":[0.2,1.0],"nice":false,"zero":false},"axis":{"values":[0.2,0.4,0.6,0.8,1.0],"format":".1f","title":null}},"color":{"field":"model","type":"nominal","scale":{"domain":["CGAN-MP","CVAE-MP","DIFF-MP"],"range":["#ff0000","#0000ff","#4b0082"]},"legend":null}},"layer":[{"mark":"line"},{"mark":"point"}]},
{"width":366,"height":394,"transform":[{"filter":"datum.var=='qv'&&datum.metric=='std'"}],"encoding":{"x":{"field":"res","type":"ordinal","sort":["120","60","30","15"],"scale":{"type":"point","padding":0.15},"axis":{"title":null}},"y":{"field":"value","type":"quantitative","scale":{"domain":[0.4,1.25],"nice":false,"zero":false},"axis":{"values":[0.4,0.6,0.8,1.0,1.2],"format":".1f","title":null}},"color":{"field":"model","type":"nominal","scale":{"domain":["CGAN-MP","CVAE-MP","DIFF-MP"],"range":["#ff0000","#0000ff","#4b0082"]},"legend":null}},"layer":[{"mark":"line"},{"mark":"point"}]},
{"width":366,"height":394,"transform":[{"filter":"datum.var=='qv'&&datum.metric=='kur'"}],"encoding":{"x":{"field":"res","type":"ordinal","sort":["120","60","30","15"],"scale":{"type":"point","padding":0.15},"axis":{"title":null}},"y":{"field":"value","type":"quantitative","scale":{"domain":[0.8,1.8],"nice":false,"zero":false},"axis":{"values":[0.8,1.0,1.2,1.4,1.6,1.8],"format":".1f","title":null}},"color":{"field":"model","type":"nominal","scale":{"domain":["CGAN-MP","CVAE-MP","DIFF-MP"],"range":["#ff0000","#0000ff","#4b0082"]},"legend":null}},"layer":[{"mark":"line"},{"mark":"point"}]},
{"width":366,"height":394,"transform":[{"filter":"datum.var=='qv'&&datum.metric=='skew'"}],"encoding":{"x":{"field":"res","type":"ordinal","sort":["120","60","30","15"],"scale":{"type":"point","padding":0.15},"axis":{"title":null}},"y":{"field":"value","type":"quantitative","scale":{"domain":[-2.5,3.0],"nice":false,"zero":false},"axis":{"values":[-2,0,2],"format":"d","title":null}},"color":{"field":"model","type":"nominal","scale":{"domain":["CGAN-MP","CVAE-MP","DIFF-MP"],"range":["#ff0000","#0000ff","#4b0082"]},"legend":null}},"layer":[{"mark":"line"},{"mark":"point"}]},

{"width":366,"height":394,"transform":[{"filter":"datum.var=='qc'&&datum.metric=='MSE'"}],"encoding":{"x":{"field":"res","type":"ordinal","sort":["120","60","30","15"],"scale":{"type":"point","padding":0.15},"axis":{"title":null}},"y":{"field":"value","type":"quantitative","scale":{"domain":[0.006,0.025],"nice":false,"zero":false},"axis":{"values":[0.01,0.015,0.02,0.025],"format":".3f","title":"qc mixing ratio"}},"color":{"field":"model","type":"nominal","scale":{"domain":["CGAN-MP","CVAE-MP","DIFF-MP"],"range":["#ff0000","#0000ff","#4b0082"]},"legend":null}},"layer":[{"mark":"line"},{"mark":"point"}]},
{"width":366,"height":394,"transform":[{"filter":"datum.var=='qc'&&datum.metric=='PCC'"}],"encoding":{"x":{"field":"res","type":"ordinal","sort":["120","60","30","15"],"scale":{"type":"point","padding":0.15},"axis":{"title":null}},"y":{"field":"value","type":"quantitative","scale":{"domain":[0.5,1.0],"nice":false,"zero":false},"axis":{"values":[0.5,0.6,0.7,0.8,0.9,1.0],"format":".1f","title":null}},"color":{"field":"model","type":"nominal","scale":{"domain":["CGAN-MP","CVAE-MP","DIFF-MP"],"range":["#ff0000","#0000ff","#4b0082"]},"legend":null}},"layer":[{"mark":"line"},{"mark":"point"}]},
{"width":366,"height":394,"transform":[{"filter":"datum.var=='qc'&&datum.metric=='SSC'"}],"encoding":{"x":{"field":"res","type":"ordinal","sort":["120","60","30","15"],"scale":{"type":"point","padding":0.15},"axis":{"title":null}},"y":{"field":"value","type":"quantitative","scale":{"domain":[0.55,0.8],"nice":false,"zero":false},"axis":{"values":[0.55,0.6,0.65,0.7,0.75,0.8],"format":".2f","title":null}},"color":{"field":"model","type":"nominal","scale":{"domain":["CGAN-MP","CVAE-MP","DIFF-MP"],"range":["#ff0000","#0000ff","#4b0082"]},"legend":null}},"layer":[{"mark":"line"},{"mark":"point"}]},
{"width":366,"height":394,"transform":[{"filter":"datum.var=='qc'&&datum.metric=='CR'"}],"encoding":{"x":{"field":"res","type":"ordinal","sort":["120","60","30","15"],"scale":{"type":"point","padding":0.15},"axis":{"title":null}},"y":{"field":"value","type":"quantitative","scale":{"domain":[0.2,1.0],"nice":false,"zero":false},"axis":{"values":[0.2,0.4,0.6,0.8,1.0],"format":".1f","title":null}},"color":{"field":"model","type":"nominal","scale":{"domain":["CGAN-MP","CVAE-MP","DIFF-MP"],"range":["#ff0000","#0000ff","#4b0082"]},"legend":null}},"layer":[{"mark":"line"},{"mark":"point"}]},
{"width":366,"height":394,"transform":[{"filter":"datum.var=='qc'&&datum.metric=='std'"}],"encoding":{"x":{"field":"res","type":"ordinal","sort":["120","60","30","15"],"scale":{"type":"point","padding":0.15},"axis":{"title":null}},"y":{"field":"value","type":"quantitative","scale":{"domain":[0.3,1.25],"nice":false,"zero":false},"axis":{"values":[0.4,0.6,0.8,1.0,1.2],"format":".1f","title":null}},"color":{"field":"model","type":"nominal","scale":{"domain":["CGAN-MP","CVAE-MP","DIFF-MP"],"range":["#ff0000","#0000ff","#4b0082"]},"legend":null}},"layer":[{"mark":"line"},{"mark":"point"}]},
{"width":366,"height":394,"transform":[{"filter":"datum.var=='qc'&&datum.metric=='kur'"}],"encoding":{"x":{"field":"res","type":"ordinal","sort":["120","60","30","15"],"scale":{"type":"point","padding":0.15},"axis":{"title":null}},"y":{"field":"value","type":"quantitative","scale":{"domain":[0.4,1.4],"nice":false,"zero":false},"axis":{"values":[0.4,0.6,0.8,1.0,1.2,1.4],"format":".1f","title":null}},"color":{"field":"model","type":"nominal","scale":{"domain":["CGAN-MP","CVAE-MP","DIFF-MP"],"range":["#ff0000","#0000ff","#4b0082"]},"legend":null}},"layer":[{"mark":"line"},{"mark":"point"}]},
{"width":366,"height":394,"transform":[{"filter":"datum.var=='qc'&&datum.metric=='skew'"}],"encoding":{"x":{"field":"res","type":"ordinal","sort":["120","60","30","15"],"scale":{"type":"point","padding":0.15},"axis":{"title":null}},"y":{"field":"value","type":"quantitative","scale":{"domain":[0.65,1.15],"nice":false,"zero":false},"axis":{"values":[0.7,0.8,0.9,1.0,1.1],"format":".1f","title":null}},"color":{"field":"model","type":"nominal","scale":{"domain":["CGAN-MP","CVAE-MP","DIFF-MP"],"range":["#ff0000","#0000ff","#4b0082"]},"legend":null}},"layer":[{"mark":"line"},{"mark":"point"}]},

{"width":366,"height":394,"transform":[{"filter":"datum.var=='qi'&&datum.metric=='MSE'"}],"encoding":{"x":{"field":"res","type":"ordinal","sort":["120","60","30","15"],"scale":{"type":"point","padding":0.15},"axis":{"title":null}},"y":{"field":"value","type":"quantitative","scale":{"domain":[0.006,0.025],"nice":false,"zero":false},"axis":{"values":[0.01,0.015,0.02,0.025],"format":".3f","title":"qᵢ mixing ratio"}},"color":{"field":"model","type":"nominal","scale":{"domain":["CGAN-MP","CVAE-MP","DIFF-MP"],"range":["#ff0000","#0000ff","#4b0082"]},"legend":null}},"layer":[{"mark":"line"},{"mark":"point"}]},
{"width":366,"height":394,"transform":[{"filter":"datum.var=='qi'&&datum.metric=='PCC'"}],"encoding":{"x":{"field":"res","type":"ordinal","sort":["120","60","30","15"],"scale":{"type":"point","padding":0.15},"axis":{"title":null}},"y":{"field":"value","type":"quantitative","scale":{"domain":[0.5,1.0],"nice":false,"zero":false},"axis":{"values":[0.5,0.6,0.7,0.8,0.9,1.0],"format":".1f","title":null}},"color":{"field":"model","type":"nominal","scale":{"domain":["CGAN-MP","CVAE-MP","DIFF-MP"],"range":["#ff0000","#0000ff","#4b0082"]},"legend":null}},"layer":[{"mark":"line"},{"mark":"point"}]},
{"width":366,"height":394,"transform":[{"filter":"datum.var=='qi'&&datum.metric=='SSC'"}],"encoding":{"x":{"field":"res","type":"ordinal","sort":["120","60","30","15"],"scale":{"type":"point","padding":0.15},"axis":{"title":null}},"y":{"field":"value","type":"quantitative","scale":{"domain":[0.55,0.8],"nice":false,"zero":false},"axis":{"values":[0.55,0.6,0.65,0.7,0.75,0.8],"format":".2f","title":null}},"color":{"field":"model","type":"nominal","scale":{"domain":["CGAN-MP","CVAE-MP","DIFF-MP"],"range":["#ff0000","#0000ff","#4b0082"]},"legend":null}},"layer":[{"mark":"line"},{"mark":"point"}]},
{"width":366,"height":394,"transform":[{"filter":"datum.var=='qi'&&datum.metric=='CR'"}],"encoding":{"x":{"field":"res","type":"ordinal","sort":["120","60","30","15"],"scale":{"type":"point","padding":0.15},"axis":{"title":"resolution (km)","titlePadding":3}},"y":{"field":"value","type":"quantitative","scale":{"domain":[0.2,1.0],"nice":false,"zero":false},"axis":{"values":[0.2,0.4,0.6,0.8,1.0],"format":".1f","title":null}},"color":{"field":"model","type":"nominal","scale":{"domain":["CGAN-MP","CVAE-MP","DIFF-MP"],"range":["#ff0000","#0000ff","#4b0082"]},"legend":null}},"layer":[{"mark":"line"},{"mark":"point"}]},
{"width":366,"height":394,"transform":[{"filter":"datum.var=='qi'&&datum.metric=='std'"}],"encoding":{"x":{"field":"res","type":"ordinal","sort":["120","60","30","15"],"scale":{"type":"point","padding":0.15},"axis":{"title":null}},"y":{"field":"value","type":"quantitative","scale":{"domain":[0.3,1.25],"nice":false,"zero":false},"axis":{"values":[0.4,0.6,0.8,1.0,1.2],"format":".1f","title":null}},"color":{"field":"model","type":"nominal","scale":{"domain":["CGAN-MP","CVAE-MP","DIFF-MP"],"range":["#ff0000","#0000ff","#4b0082"]},"legend":null}},"layer":[{"mark":"line"},{"mark":"point"}]},
{"width":366,"height":394,"transform":[{"filter":"datum.var=='qi'&&datum.metric=='kur'"}],"encoding":{"x":{"field":"res","type":"ordinal","sort":["120","60","30","15"],"scale":{"type":"point","padding":0.15},"axis":{"title":null}},"y":{"field":"value","type":"quantitative","scale":{"domain":[0.4,1.4],"nice":false,"zero":false},"axis":{"values":[0.4,0.6,0.8,1.0,1.2,1.4],"format":".1f","title":null}},"color":{"field":"model","type":"nominal","scale":{"domain":["CGAN-MP","CVAE-MP","DIFF-MP"],"range":["#ff0000","#0000ff","#4b0082"]},"legend":null}},"layer":[{"mark":"line"},{"mark":"point"}]},
{"width":366,"height":394,"transform":[{"filter":"datum.var=='qi'&&datum.metric=='skew'"}],"encoding":{"x":{"field":"res","type":"ordinal","sort":["120","60","30","15"],"scale":{"type":"point","padding":0.15},"axis":{"title":null}},"y":{"field":"value","type":"quantitative","scale":{"domain":[0.8,1.05],"nice":false,"zero":false},"axis":{"values":[0.8,0.85,0.9,0.95,1.0,1.05],"format":".2f","title":null}},"color":{"field":"model","type":"nominal","scale":{"domain":["CGAN-MP","CVAE-MP","DIFF-MP"],"range":["#ff0000","#0000ff","#4b0082"]},"legend":null}},"layer":[{"mark":"line"},{"mark":"point"}]}
],
"config":{
"font":"Liberation Serif",
"view":{"stroke":"#333333","strokeWidth":2.5},
"axis":{"grid":false,"domain":false,"labelFont":"Liberation Serif","labelFontSize":31,"labelColor":"#000000","tickColor":"#333333","tickWidth":2,"tickSize":8,"labelPadding":7,"titleFont":"Liberation Serif","titleFontSize":46,"titleFontWeight":"normal","titleColor":"#000000"},
"axisX":{"labelAngle":0},
"axisY":{"titlePadding":16,"titleFont":"DejaVu Serif","titleFontSize":38},
"title":{"font":"Liberation Serif","fontSize":46,"fontWeight":"normal","color":"#000000","anchor":"middle","baseline":"bottom","offset":4,"frame":"group"},
"line":{"strokeWidth":4},
"point":{"shape":"triangle-up","filled":true,"size":400,"opacity":1}
}
}
